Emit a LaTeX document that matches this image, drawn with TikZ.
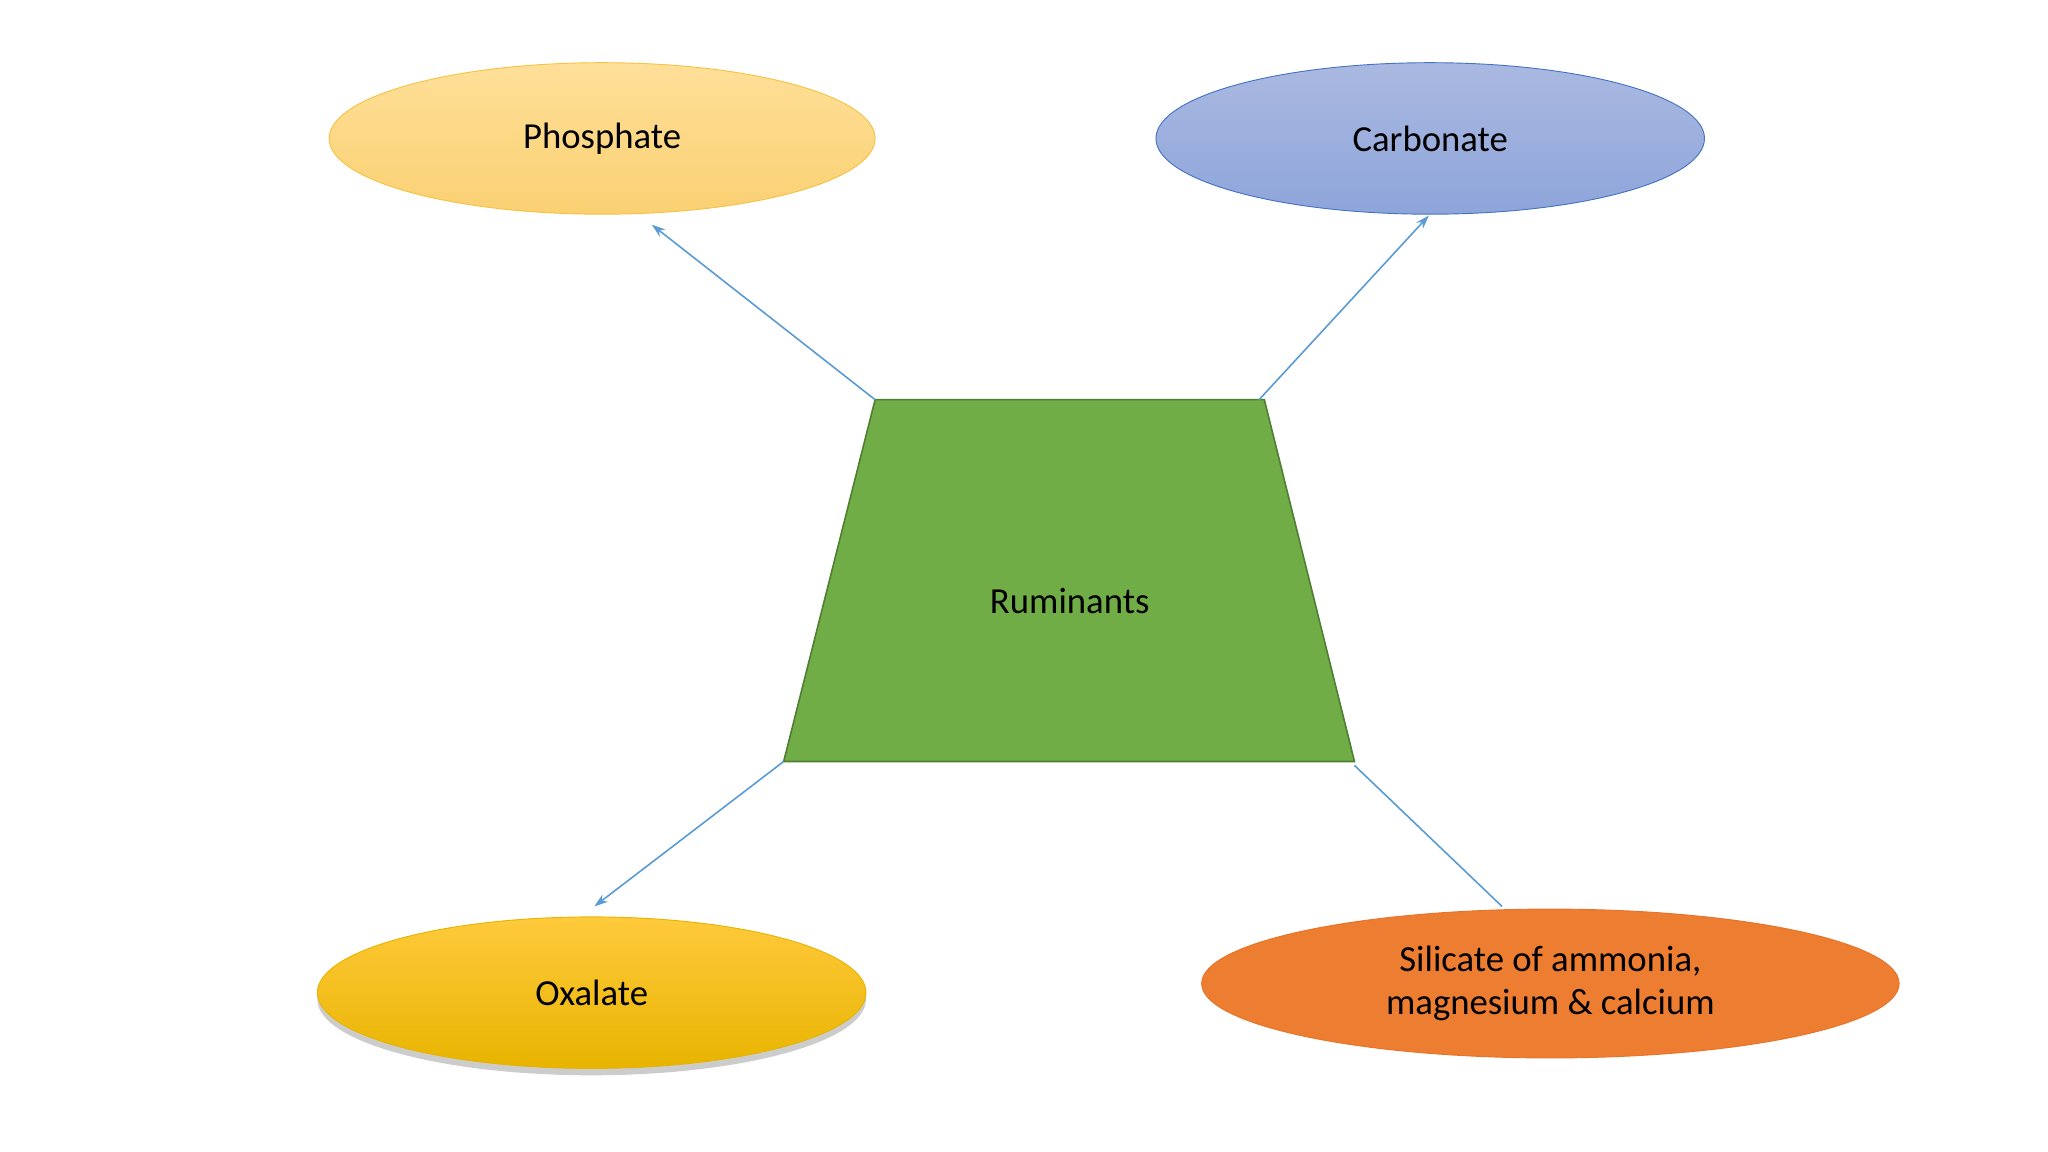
\documentclass[tikz,border=0pt]{standalone}
\usepackage{fontspec}
\setmainfont{Carlito}
\usetikzlibrary{shapes.geometric,shadows,arrows.meta}
\begin{document}
\begin{tikzpicture}[x=0.02cm,y=-0.02cm,
  oval/.style={ellipse,inner sep=0pt,font=\fontsize{16}{19}\selectfont,align=center},
  conn/.style={draw={rgb,255:red,91;green,155;blue,213},line width=0.7pt,-{Stealth[length=6pt,width=4pt]}}]
\useasboundingbox (0,0) rectangle (1568,882);
\definecolor{phb}{RGB}{245,194,66}
\definecolor{cab}{RGB}{68,114,196}
\node[oval,minimum width=418*0.02cm,minimum height=116*0.02cm,draw=phb,top color={rgb,255:red,255;green,224;blue,153},bottom color={rgb,255:red,250;green,208;blue,114}] (ph) at (461,106) {Phosphate};
\node[oval,minimum width=420*0.02cm,minimum height=116*0.02cm,draw=cab,top color={rgb,255:red,170;green,185;blue,225},bottom color={rgb,255:red,142;green,165;blue,218}] (ca) at (1095,106) {Carbonate};
\node[oval,minimum width=420*0.02cm,minimum height=116*0.02cm,draw={rgb,255:red,230;green,180;blue,0},top color={rgb,255:red,255;green,202;blue,60},bottom color={rgb,255:red,232;green,180;blue,0},drop shadow={shadow xshift=0pt,shadow yshift=-3pt,opacity=0.4}] (ox) at (453,760) {Oxalate};
\node[oval,minimum width=534*0.02cm,minimum height=114*0.02cm,fill={rgb,255:red,237;green,125;blue,49},draw={rgb,255:red,230;green,115;blue,40}] (si) at (1187,753) {Silicate of ammonia,\\magnesium \& calcium};
\coordinate (tl) at (670,306); \coordinate (tr) at (968,306);
\coordinate (br) at (1037,583); \coordinate (bl) at (600,583);
\draw[fill={rgb,255:red,112;green,173;blue,71},draw={rgb,255:red,80;green,126;blue,50},line width=0.7pt] (tl)--(tr)--(br)--(bl)--cycle;
\node[font=\fontsize{16}{19}\selectfont] (ru) at (819,460) {Ruminants};
\coordinate (trs) at (964,306); \coordinate (brs) at (1037,586);
\coordinate (pha) at (499,172); \coordinate (caa) at (1094,165);
\coordinate (oxa) at (455,694); \coordinate (sia) at (1150,694);
\draw[conn] (tl) -- (pha);
\draw[conn] (trs) -- (caa);
\draw[conn] (bl) -- (oxa);
\draw[conn,-] (brs) -- (sia);
\end{tikzpicture}
\end{document}
